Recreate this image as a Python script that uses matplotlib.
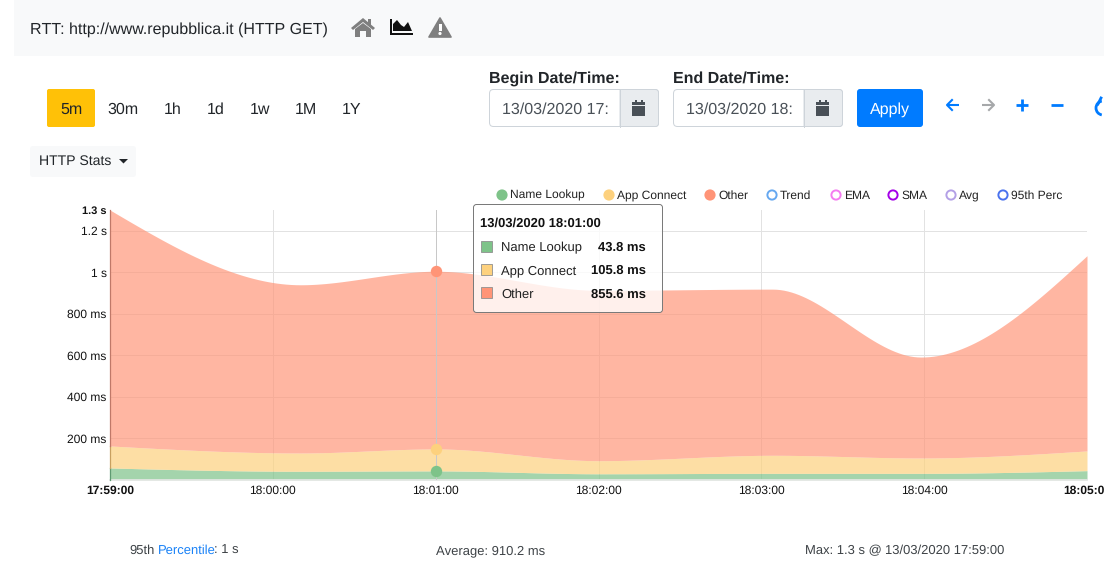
import numpy as np
import matplotlib
matplotlib.use("Agg")
import matplotlib.pyplot as plt
import matplotlib.patches as mpatches

plt.rcParams['font.family'] = ['Liberation Sans', 'DejaVu Sans']
plt.rcParams['text.hinting'] = 'none'
plt.rcParams['text.hinting_factor'] = 1

W, H = 1104, 578

# data (ms); samples do not sit exactly on the minute ticks
sample_minutes = [0, 1.17, 2, 3, 4.07, 4.98, 6]
name_lookup = [58, 42, 43.8, 30, 32, 32, 45]
app_connect = [106, 88, 105.8, 63, 87, 74, 95]
other = [1136, 810, 855.6, 820, 800, 486, 940]

tick_minutes = [0, 1, 2, 3, 4, 5, 6]
time_labels = ["17:59:00", "18:00:00", "18:01:00", "18:02:00", "18:03:00", "18:04:00", "18:05:00"]
y_ticks = [200, 400, 600, 800, 1000, 1200, 1300]
y_tick_labels = ["200 ms", "400 ms", "600 ms", "800 ms", "1 s", "1.2 s", "1.3 s"]

range_buttons = ["5m", "30m", "1h", "1d", "1w", "1M", "1Y"]
legend_names = ["Name Lookup", "App Connect", "Other", "Trend", "EMA", "SMA", "Avg", "95th Perc"]
legend_colors = ["#7ec389", "#fdd17e", "#ff9477", "#66a8f0", "#f47cf0", "#a400e8", "#b3a0e6", "#4a72ee"]

GREEN, YELLOW, RED = legend_colors[:3]


def monotone(x, y, n=40):
    # same curve the page uses: monotone cubic between the samples
    x = np.asarray(x, float)
    y = np.asarray(y, float)
    h = np.diff(x)
    s = np.diff(y) / h
    m = np.zeros(len(x))
    for i in range(1, len(x) - 1):
        if s[i - 1] * s[i] > 0:
            m[i] = 2 * s[i - 1] * s[i] / (s[i - 1] + s[i])
    m[0] = (3 * s[0] - m[1]) / 2
    m[-1] = (3 * s[-1] - m[-2]) / 2
    xs, ys = [], []
    for i in range(len(h)):
        t = np.linspace(0, 1, n, endpoint=False)
        xs.append(x[i] + t * h[i])
        ys.append((2*t**3 - 3*t**2 + 1) * y[i] + (t**3 - 2*t**2 + t) * h[i] * m[i]
                  + (-2*t**3 + 3*t**2) * y[i + 1] + (t**3 - t**2) * h[i] * m[i + 1])
    xs.append(x[-1:])
    ys.append(y[-1:])
    return np.concatenate(xs), np.concatenate(ys)


fig = plt.figure(figsize=(W / 100, H / 100), dpi=100, facecolor="white")

# page overlay in pixel coordinates
page = fig.add_axes([0, 0, 1, 1], zorder=1)
page.set_xlim(0, W)
page.set_ylim(H, 0)
page.axis("off")


def box(x, y, w, h, color, edge="none", r=3, lw=0.72, **kw):
    p = mpatches.FancyBboxPatch((x + r, y + r), w - 2 * r, h - 2 * r,
                                boxstyle="round,pad=%f,rounding_size=%f" % (r, r),
                                fc=color, ec=edge, lw=lw, **kw)
    page.add_patch(p)


# navbar
page.add_patch(mpatches.Rectangle((14, 0), W - 14, 56, fc="#f8f9fa", ec="none"))
page.text(30, 30, "RTT: http://www.repubblica.it (HTTP GET)", fontsize=11.52, color="#212529", va="center")

# home icon
page.add_patch(mpatches.Polygon([(351, 28), (363, 18), (375, 28), (373, 30), (363, 22), (353, 30)], fc="#7f7f7f"))
page.add_patch(mpatches.Polygon([(355, 29), (363, 23), (371, 29), (371, 37), (366, 37), (366, 31), (360, 31), (360, 37), (355, 37)], fc="#7f7f7f"))
page.add_patch(mpatches.Rectangle((368, 19), 3, 6, fc="#7f7f7f"))
# area chart icon
page.add_patch(mpatches.Polygon([(390, 19), (392, 19), (392, 33), (413, 33), (413, 35), (390, 35)], fc="#111111"))
page.add_patch(mpatches.Polygon([(393, 31), (393, 24), (397, 20), (401, 25), (404, 27), (408, 22), (412, 31)], fc="#111111"))
# warning icon
page.add_patch(mpatches.Polygon([(440, 18), (451, 37), (429, 37)], fc="#7f7f7f", ec="#7f7f7f", lw=1.2, joinstyle="round"))
page.add_patch(mpatches.Rectangle((438.7, 23.5), 2.8, 7, fc="white"))
page.add_patch(mpatches.Circle((440, 33.5), 1.6, fc="white"))

# range buttons
box(47, 89, 48, 38, "#ffc107", r=2)
btn_x = [71, 123, 173, 215.5, 260, 305.5, 352]
for label, x in zip(range_buttons, btn_x):
    page.text(x, 114, label, fontsize=11.52, color="#212529", ha="center", va="baseline")

box(30, 146, 106, 31, "#f8f9fa", r=3)
page.text(39, 161.3, "HTTP Stats", fontsize=10.08, color="#212529", va="center")
page.add_patch(mpatches.Polygon([(119, 159), (128, 159), (123.5, 163.5)], fc="#212529"))

# date pickers
for x, title, value in [(489, "Begin Date/Time:", "13/03/2020 17:"), (673, "End Date/Time:", "13/03/2020 18:")]:
    page.text(x, 78.5, title, fontsize=11.52, fontweight="bold", color="#212529", va="center")
    box(x + 0.5, 89.5, 169, 37, "white", edge="#ced4da", r=4)
    box(x + 130.5, 89.5, 39, 37, "#e9ecef", edge="#ced4da", r=3)
    page.add_patch(mpatches.Rectangle((x + 130, 90), 6, 36, fc="#e9ecef", ec="none"))
    page.plot([x + 130.5, x + 130.5], [89.5, 126.5], color="#ced4da", lw=0.72)
    page.text(x + 13, 114, value, fontsize=11.52, color="#495057", va="baseline")
    # calendar
    page.add_patch(mpatches.Rectangle((x + 143, 102), 13, 13.5, fc="#495057"))
    page.add_patch(mpatches.Rectangle((x + 145.5, 100), 2, 3, fc="#495057"))
    page.add_patch(mpatches.Rectangle((x + 151.5, 100), 2, 3, fc="#495057"))
    page.add_patch(mpatches.Rectangle((x + 143, 105), 13, 1, fc="#e9ecef"))

box(857, 89, 66, 38, "#007bff", r=3)
page.text(890, 114, "Apply", fontsize=11.52, color="white", ha="center", va="baseline")

# nav glyphs
page.plot([947, 959], [105, 105], color="#007bff", lw=1.5, solid_capstyle="butt")
page.plot([952, 947, 952], [100, 105, 110], color="#007bff", lw=1.5)
page.plot([982, 994], [105, 105], color="#a6a8aa", lw=1.5, solid_capstyle="butt")
page.plot([989, 994, 989], [100, 105, 110], color="#a6a8aa", lw=1.5)
page.plot([1016, 1028], [105, 105], color="#007bff", lw=2, solid_capstyle="butt")
page.plot([1022, 1022], [99, 111], color="#007bff", lw=2, solid_capstyle="butt")
page.plot([1051, 1063], [105, 105], color="#007bff", lw=2, solid_capstyle="butt")
page.add_patch(mpatches.Arc((1103, 108), 14, 14, theta1=100, theta2=260, color="#007bff", lw=2))
page.plot([1101, 1098], [98, 104], color="#007bff", lw=2)

# legend
legend_dot = [502, 609, 710, 772, 836, 893, 951, 1003]
legend_txt = [510.5, 617, 718.5, 780, 844, 901, 959, 1011]
for i, (name, col) in enumerate(zip(legend_names, legend_colors)):
    if i < 3:
        page.add_patch(mpatches.Circle((legend_dot[i], 195), 5.6, fc=col, ec="none"))
    else:
        page.add_patch(mpatches.Circle((legend_dot[i], 195), 4.6, fc="white", ec=col, lw=1.4))
    page.text(legend_txt[i], 199, name, fontsize=8.6, color="#222222", va="baseline")

# chart: 17:59 at x=110, 18:05 at x=1087, 0 at y=480, 1.3 s at y=210
ax = fig.add_axes([110 / W, 1 - 480 / H, (1087 - 110) / W, 270 / H], zorder=2)
ax.patch.set_alpha(0)
ax.set_xlim(tick_minutes[0], tick_minutes[-1])
ax.set_ylim(0, 1300)

for t in tick_minutes:
    ax.axvline(t, color="#e2e2e2", lw=0.72, zorder=1)
for v in y_ticks[:-1]:
    ax.axhline(v, color="#e2e2e2", lw=0.72, zorder=1)

green_top = np.array(name_lookup)
yellow_top = green_top + np.array(app_connect)
red_top = yellow_top + np.array(other)
xx, g = monotone(sample_minutes, green_top)
_, y2 = monotone(sample_minutes, yellow_top)
_, r2 = monotone(sample_minutes, red_top)
ax.fill_between(xx, 0, g, color=GREEN, alpha=0.7, lw=0, zorder=2)
ax.fill_between(xx, g, y2, color=YELLOW, alpha=0.7, lw=0, zorder=2)
ax.fill_between(xx, y2, r2, color=RED, alpha=0.68, lw=0, zorder=2)

# hover guide and dots at 18:01
hover = 2
ax.axvline(sample_minutes[hover], color="#c8c8c8", lw=0.72, zorder=3)
for top, col in zip([green_top, yellow_top, red_top], [GREEN, YELLOW, RED]):
    ax.plot([sample_minutes[hover]], [top[hover]], "o", ms=8.2, color=col, mec="none", zorder=4, clip_on=False)

for s in ["top", "right", "left"]:
    ax.spines[s].set_visible(False)
# left edge takes the colour of each band
ax.plot([0, 0], [0, green_top[0]], color="#5f9a72", lw=0.9, zorder=3, clip_on=False)
ax.plot([0, 0], [green_top[0], yellow_top[0]], color="#c8a060", lw=0.9, zorder=3, clip_on=False)
ax.plot([0, 0], [yellow_top[0], red_top[0]], color="#c07868", lw=0.9, zorder=3, clip_on=False)
ax.spines["bottom"].set_color("#e8e8e8")
ax.spines["bottom"].set_linewidth(1.2)

ax.set_xticks(tick_minutes)
ax.set_xticklabels(time_labels, fontsize=8.5, color="#111111")
ax.set_yticks(y_ticks)
ax.set_yticklabels(y_tick_labels, fontsize=8.6, color="#111111")
ax.tick_params(axis="both", length=0)
ax.tick_params(axis="x", pad=4)
ax.tick_params(axis="y", pad=2.4)
for lab in [ax.get_xticklabels()[0], ax.get_xticklabels()[-1], ax.get_yticklabels()[-1]]:
    lab.set_fontweight("bold")
ax.get_yticklabels()[-1].set_fontsize(8.2)

# tooltip
tip = fig.add_axes([0, 0, 1, 1], zorder=3)
tip.set_xlim(0, W)
tip.set_ylim(H, 0)
tip.axis("off")
tip.add_patch(mpatches.FancyBboxPatch((476.5, 207.5), 183, 102, boxstyle="round,pad=3,rounding_size=3",
                                      fc=(1, 1, 1, 0.8), ec="#7a7a7a", lw=0.72))
tip.text(480, 226.7, "13/03/2020 " + time_labels[hover], fontsize=9.2, fontweight="bold", color="#111111", va="baseline")
rows = [(legend_names[0], name_lookup[hover], GREEN, 251),
        (legend_names[1], app_connect[hover], YELLOW, 274.3),
        (legend_names[2], other[hover], RED, 297.7)]
for name, val, col, y in rows:
    tip.add_patch(mpatches.Rectangle((480.5, y - 10.5), 11, 11, fc=col, ec="#8f8f8f", lw=0.6))
    tip.text(501, y, name, fontsize=9.4, color="#222222", va="baseline")
    tip.text(646, y, "%.1f ms" % val, fontsize=9.4, fontweight="bold", color="#111111", va="baseline", ha="right")

# footer stats
foot = "#3d4246"
tip.text(129.5, 554, "95th", fontsize=9.4, color=foot, va="baseline")
tip.text(158, 554, "Percentile", fontsize=9.4, color="#1a82f7", va="baseline")
tip.text(214.5, 554, ": 1 s", fontsize=9.4, color=foot, va="baseline")
tip.text(436.5, 554, "Average: 910.2 ms", fontsize=9.3, color=foot, va="baseline")
tip.text(805, 554, "Max: 1.3 s @", fontsize=9.3, color=foot, va="baseline")
tip.text(1004, 554, "13/03/2020 17:59:00", fontsize=9.3, color=foot, va="baseline", ha="right")

fig.savefig("out.png", dpi=100)
